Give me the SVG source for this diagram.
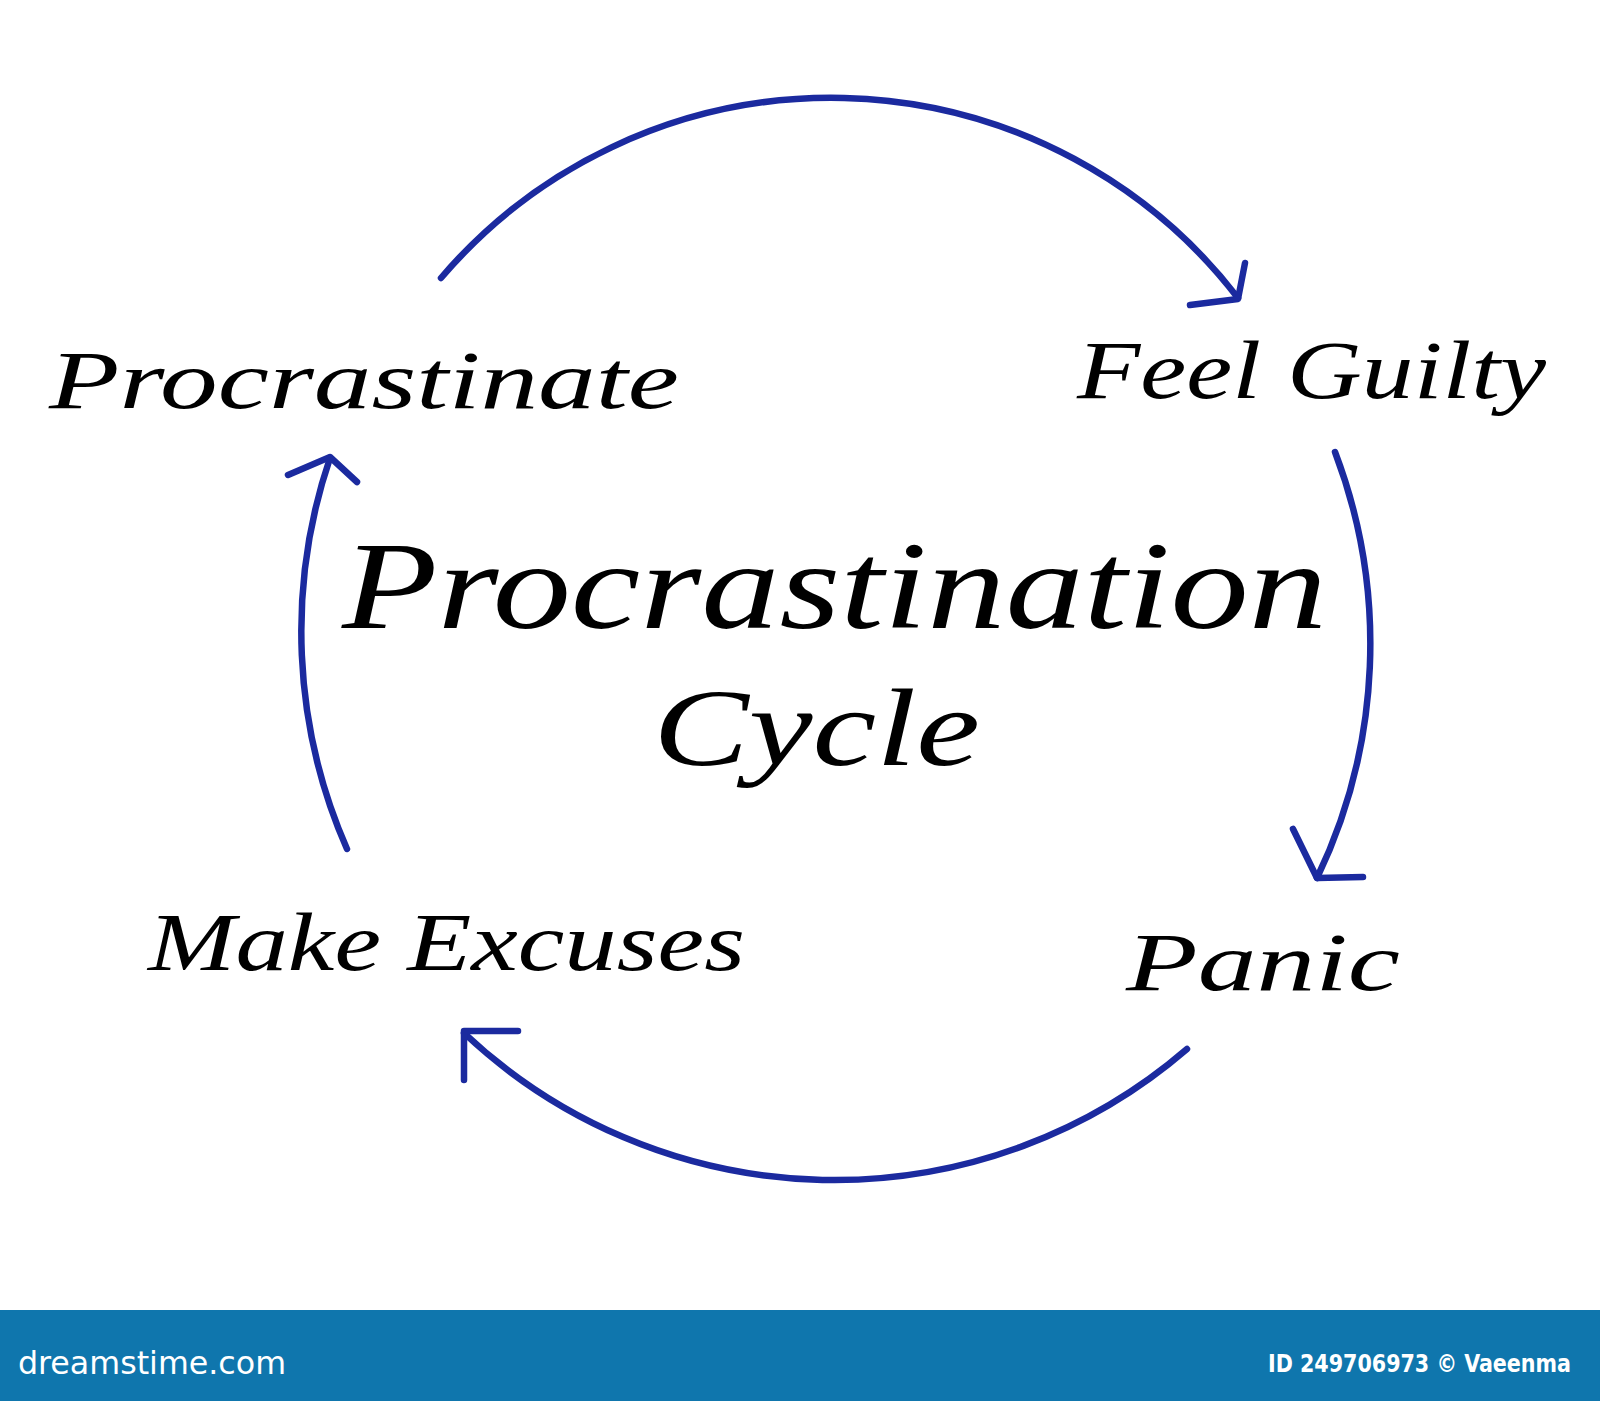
<svg xmlns="http://www.w3.org/2000/svg" width="1600" height="1401" viewBox="0 0 1600 1401">
<style>
.lbl{font-family:"Liberation Serif","DejaVu Serif",serif;font-style:italic;fill:#000;}
.arc{fill:none;stroke:#1b2a9f;stroke-width:6.5;stroke-linecap:round;stroke-linejoin:round;}
.foot{font-family:"DejaVu Sans Condensed","Liberation Sans",sans-serif;fill:#fff;}
</style>
<rect width="1600" height="1401" fill="#fff"/>
<g id="connectors">
<path class="arc" d="M441,278 A513,513 0 0 1 1238,298"/>
<polyline class="arc" points="1245,263 1238,299 1190,305"/>
<path class="arc" d="M1335,452 A540,540 0 0 1 1317,878"/>
<polyline class="arc" points="1293,829 1317,878 1363,877"/>
<path class="arc" d="M1187,1049 A540,540 0 0 1 464,1033"/>
<polyline class="arc" points="518,1031 464,1031 464,1080"/>
<path class="arc" d="M347,849 A540,540 0 0 1 330,458"/>
<polyline class="arc" points="288,475 330,457 357,482"/>
</g>
<g id="title">
<text class="lbl" x="342" y="628" font-size="125" textLength="985" lengthAdjust="spacingAndGlyphs">Procrastination</text>
<text class="lbl" x="653" y="765" font-size="110" textLength="327" lengthAdjust="spacingAndGlyphs">Cycle</text>
</g>
<g id="node-procrastinate"><text class="lbl" x="49" y="408" font-size="82" textLength="630" lengthAdjust="spacingAndGlyphs">Procrastinate</text></g>
<g id="node-feel-guilty"><text class="lbl" x="1077" y="398" font-size="82" textLength="469" lengthAdjust="spacingAndGlyphs">Feel Guilty</text></g>
<g id="node-panic"><text class="lbl" x="1126" y="990" font-size="82" textLength="274" lengthAdjust="spacingAndGlyphs">Panic</text></g>
<g id="node-make-excuses"><text class="lbl" x="148" y="970" font-size="82" textLength="597" lengthAdjust="spacingAndGlyphs">Make Excuses</text></g>
<g id="footer">
<rect x="0" y="1310" width="1600" height="91" fill="#0f76ad"/>
<text class="foot" x="18" y="1374" font-size="32" textLength="268" lengthAdjust="spacingAndGlyphs">dreamstime.com</text>
<text class="foot" x="1268" y="1372" font-size="24" font-weight="bold" textLength="303" lengthAdjust="spacingAndGlyphs">ID 249706973 © Vaeenma</text>
</g>
</svg>
